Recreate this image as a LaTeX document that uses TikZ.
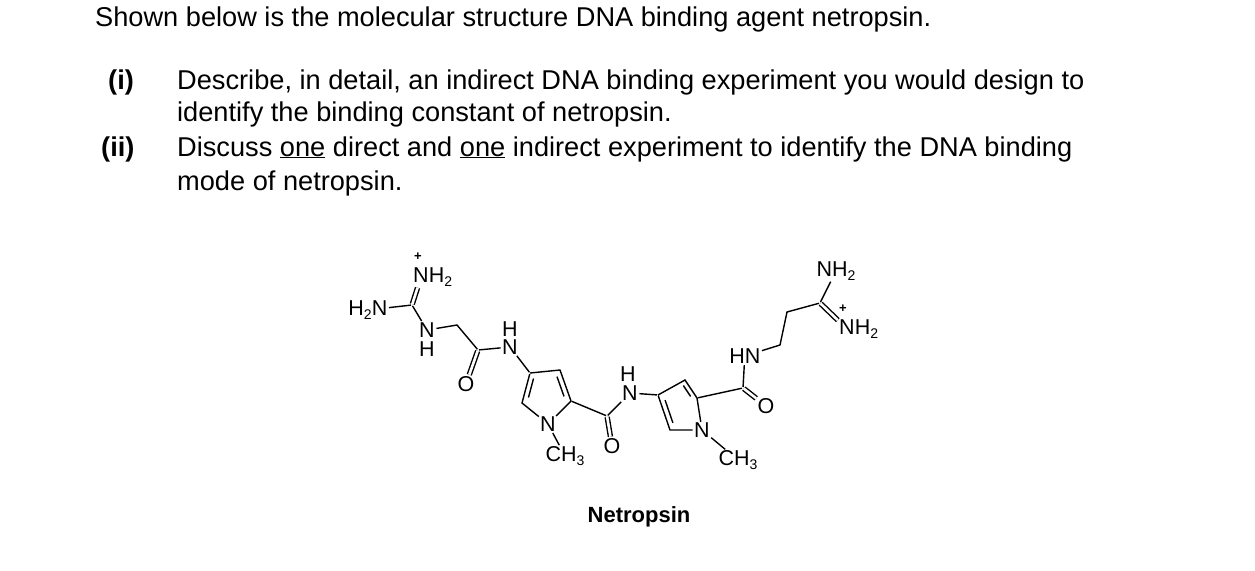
\documentclass[tikz,border=0pt]{standalone}
\usepackage{fontspec}
\setmainfont{Liberation Sans}
\usetikzlibrary{calc}
\newcommand{\sbs}[1]{\raisebox{-0.3ex}{\fontsize{14}{14}\selectfont #1}}
\begin{document}
\begin{tikzpicture}[x=1pt,y=-1pt,
  txt/.style={anchor=base west,font=\fontsize{27.2}{30}\selectfont,inner sep=0pt},
  atm/.style={font=\fontsize{21.5}{23}\selectfont,inner sep=0.5pt},
  bd/.style={line width=1.4pt,shorten >=1pt,shorten <=1pt},
  dbl/.style={line width=1.4pt,double distance=2.6pt,shorten >=1pt,shorten <=1pt}]
\useasboundingbox (0,0) rectangle (1255,570);
\node[txt] (t0) at (95,27) {Shown below is the molecular structure DNA binding agent netropsin.};
\node[txt] (l1) at (108,89) {\textbf{(i)}};
\node[txt] (t1) at (177,89) {Describe, in detail, an indirect DNA binding experiment you would design to};
\node[txt] (t2) at (177,121) {identify the binding constant of netropsin.};
\node[txt] (l2) at (101,156) {\textbf{(ii)}};
\node[txt] (t3) at (177,156) {Discuss \underline{one} direct and \underline{one} indirect experiment to identify the DNA binding};
\node[txt] (t4) at (177,190) {mode of netropsin.};
% atoms
\node[atm] (n1) at (421,277) {N\rlap{H\sbs{2}}};
\node[font=\fontsize{13}{13}\selectfont\bfseries,inner sep=0pt] (p1) at (418,257) {+};
\node[atm,anchor=east] (n2) at (388,310) {H\sbs{2}N};
\coordinate (c1) at (412,305);
\node[atm] (n3) at (427,330) {N};
\node[atm] (h3) at (427,349) {H};
\coordinate (c2) at (457,325);
\coordinate (c3) at (478,350);
\node[atm] (o1) at (466,384) {O};
\node[atm] (n4) at (510,347) {N};
\node[atm] (h4) at (510,329) {H};
\coordinate (a4) at (530,373);
\coordinate (a3) at (560,370);
\coordinate (a2) at (571,401);
\node[atm] (a1) at (548,424) {N};
\coordinate (a5) at (522,403);
\node[atm] (m1) at (565,456) {CH\sbs{3}};
\coordinate (c4) at (607,416);
\node[atm] (o2) at (612,446) {O};
\node[atm] (n5) at (630,393) {N};
\node[atm] (h5) at (628,374) {H};
\coordinate (b4) at (658,395);
\coordinate (b3) at (685,380);
\coordinate (b2) at (697,398);
\node[atm] (b1) at (702,430) {N};
\coordinate (b5) at (670,430);
\node[atm] (m2) at (738,460) {CH\sbs{3}};
\coordinate (c5) at (743,388);
\node[atm] (o3) at (766,406) {O};
\node[atm,anchor=east] (n6) at (761,356) {HN};
\coordinate (c6) at (780,345);
\coordinate (c7) at (787,312);
\coordinate (c8) at (820,303);
\node[atm] (n7) at (836,271) {NH\sbs{2}};
\node[atm] (n8) at (847,329) {N\rlap{H\sbs{2}}};
\node[font=\fontsize{13}{13}\selectfont\bfseries,inner sep=0pt] (p2) at (843,309) {+};
% bonds
\draw[bd] (n2) -- (c1); \draw[dbl] (c1) -- (n1); \draw[bd] (c1) -- (n3);
\draw[bd] (n3) -- (c2) -- (c3); \draw[dbl] (c3) -- (o1); \draw[bd] (c3) -- (n4);
\draw[bd] (n4) -- (a4);
\draw[bd] (a4) -- (a3) -- (a2) -- (a1) -- (a5) -- (a4);
\draw[bd] ($(a4)!0.15!(a5)+(5,0)$) -- ($(a4)!0.85!(a5)+(5,0)$);
\draw[bd] ($(a3)!0.15!(a2)+(-5,1)$) -- ($(a3)!0.85!(a2)+(-5,1)$);
\draw[bd] (a1) -- (m1); \draw[bd] (a2) -- (c4); \draw[dbl] (c4) -- (o2); \draw[bd] (c4) -- (n5);
\draw[bd] (n5) -- (b4);
\draw[bd] (b4) -- (b3) -- (b2) -- (b1) -- (b5) -- (b4);
\draw[bd] ($(b4)!0.15!(b5)+(5,-1)$) -- ($(b4)!0.85!(b5)+(5,-1)$);
\draw[bd] ($(b3)!0.15!(b2)+(-4,2)$) -- ($(b3)!0.85!(b2)+(-4,2)$);
\draw[bd] (b1) -- (m2); \draw[bd] (b2) -- (c5); \draw[dbl] (c5) -- (o3); \draw[bd] (c5) -- (n6);
\draw[bd] (n6) -- (c6) -- (c7) -- (c8); \draw[bd] (c8) -- (n7); \draw[dbl] (c8) -- (n8);
\node[font=\fontsize{22}{24}\selectfont\bfseries] (cap) at (639,517) {Netropsin};
\end{tikzpicture}
\end{document}
